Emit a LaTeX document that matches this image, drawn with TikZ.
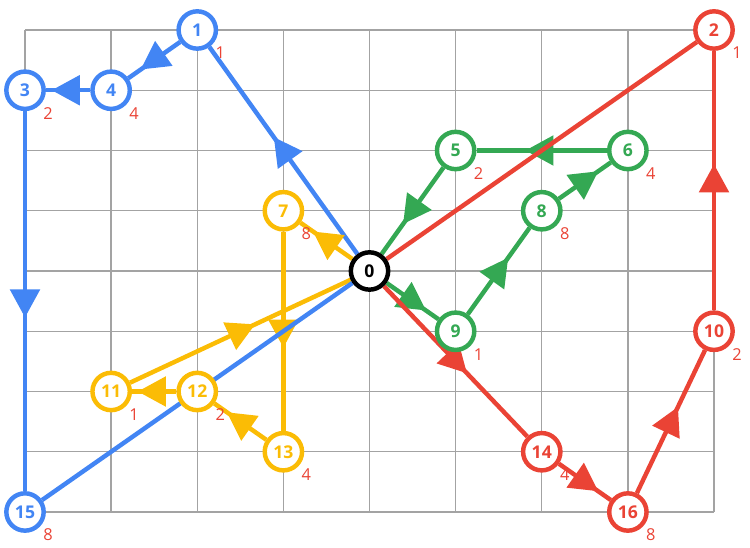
\documentclass[tikz,border=0pt]{standalone}
\usepackage{fontspec}
\setmainfont{Open Sans}
\usetikzlibrary{arrows.meta,decorations.markings}
\definecolor{gblue}{HTML}{4285F4}
\definecolor{gred}{HTML}{EA4335}
\definecolor{ggreen}{HTML}{34A853}
\definecolor{gyellow}{HTML}{FBBC05}
\definecolor{gridgray}{HTML}{A3A3A3}
\pgfdeclarelayer{gridlayer}
\pgfdeclarelayer{edgelayer}
\pgfsetlayers{gridlayer,edgelayer,main}
\begin{document}
\begin{tikzpicture}
[x=2.58375cm,y=-1.8075cm,
 nodedecorate/.style={shape=circle,draw,fill=white,line width=3.8pt,
   minimum size=1.12cm,inner sep=0pt,font=\fontsize{15}{18}\selectfont\bfseries},%
 weightdecorate/.style={text=gred,inner sep=0pt,font=\fontsize{14}{16}\selectfont},%
 linedecorate/.style={-,line width=3.8pt},%
 arrowdecorate/.style={postaction={decorate,decoration={markings,
   mark=at position 0.5 with {\arrow[xshift=14pt]{Triangle[length=24pt,width=25pt]}}}}},%
 gridline/.style={draw=gridgray,line width=1.2pt}]
\useasboundingbox (-0.2903,-0.4979) rectangle (8.4180,8.5975);
%% grid
\begin{pgfonlayer}{gridlayer}
\foreach \i in {0,...,8} {
  \draw[gridline] (\i,0) -- (\i,8);
  \draw[gridline] (0,\i) -- (8,\i);
}
\end{pgfonlayer}
%% nodes or vertices
\foreach \nodename/\x/\y/\col in {
  0/4/4/black, 1/2/0/gblue, 2/8/0/gred, 3/0/1/gblue, 4/1/1/gblue,
  5/5/2/ggreen, 6/7/2/ggreen, 7/3/3/gyellow, 8/6/3/ggreen, 9/5/5/ggreen,
  10/8/5/gred, 11/1/6/gyellow, 12/2/6/gyellow, 13/3/7/gyellow,
  14/6/7/gred, 15/0/8/gblue, 16/7/8/gred}
{
  \node (\nodename) at (\x,\y) [nodedecorate,draw=\col,text=\col] {\nodename};
}
%% weights
\foreach \nodename/\w in {
  1/1, 2/1, 3/2, 4/4, 5/2, 6/4, 7/8, 8/8, 9/1, 10/2,
  11/1, 12/2, 13/4, 14/4, 15/8, 16/8}
{
  \node (w\nodename) at ([xshift=0.69cm,yshift=-0.69cm]\nodename.center) [weightdecorate] {\w};
}
%% edges or lines
\begin{pgfonlayer}{edgelayer}
\path
\foreach \startnode/\endnode/\col in {
  0/1/gblue, 1/4/gblue, 4/3/gblue, 3/15/gblue,
  0/9/ggreen, 9/8/ggreen, 8/6/ggreen, 6/5/ggreen, 5/0/ggreen,
  0/14/gred, 14/16/gred, 16/10/gred, 10/2/gred,
  0/7/gyellow, 7/13/gyellow, 13/12/gyellow, 12/11/gyellow, 11/0/gyellow} {
  (\startnode) edge[linedecorate,arrowdecorate,color=\col] (\endnode)
};
\path
\foreach \startnode/\endnode/\col in {15/0/gblue, 2/0/gred} {
  (\startnode) edge[linedecorate,color=\col] (\endnode)
};
\end{pgfonlayer}
\end{tikzpicture}
\end{document}
